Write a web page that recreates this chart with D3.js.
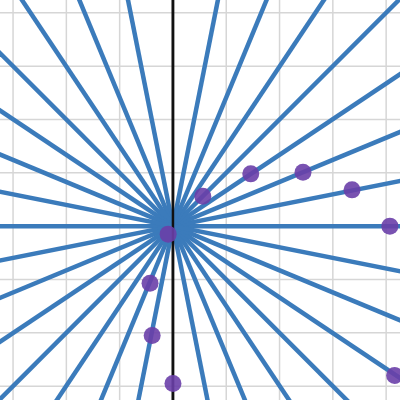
<!DOCTYPE html>
<html>
<head>
<script src="https://cdn.jsdelivr.net/npm/d3@7"></script>
<style>body{margin:0;background:#fff}</style>
</head>
<body>
<div id="chart"></div>
<script>
// line angles in degrees (through origin)
const angles = [0, 11.25, 22.5, 33.75, 45, 56.25, 67.5, 78.75, 90, 101.25, 112.5, 123.75, 135, 146.25, 157.5, 168.75];
const pointsX = [0.56, 1.46, 2.44, 3.36, 4.07, -0.09, -0.43, -0.39, 0, 4.16];
const pointsY = [0.56, 0.98, 1.01, 0.68, 0, -0.15, -1.07, -2.05, -2.95, -2.8];
const gridTicks = [-3, -2, -1, 0, 1, 2, 3, 4];

const width = 400, height = 400;
const x = d3.scaleLinear().domain([-3.245, 4.26]).range([0, width]);
const y = d3.scaleLinear().domain([-3.26, 4.24]).range([height, 0]);

const svg = d3.select("#chart").append("svg")
    .attr("width", width).attr("height", height);

svg.selectAll("line.gx").data(gridTicks).enter().append("line")
    .attr("x1", d => x(d)).attr("x2", d => x(d))
    .attr("y1", 0).attr("y2", height)
    .attr("stroke", "#d6d6d6").attr("stroke-width", 1.5);
svg.selectAll("line.gy").data(gridTicks).enter().append("line")
    .attr("y1", d => y(d)).attr("y2", d => y(d))
    .attr("x1", 0).attr("x2", width)
    .attr("stroke", "#d6d6d6").attr("stroke-width", 1.5);

// y axis under the rays, x axis is covered by the horizontal ray anyway
svg.append("line")
    .attr("x1", x(0)).attr("x2", x(0)).attr("y1", 0).attr("y2", height)
    .attr("stroke", "#111").attr("stroke-width", 2.5);
svg.append("line")
    .attr("y1", y(0)).attr("y2", y(0)).attr("x1", 0).attr("x2", width)
    .attr("stroke", "#111").attr("stroke-width", 2.5);

const R = 20;
svg.selectAll("line.ray").data(angles.filter(a => a !== 90)).enter().append("line")
    .attr("x1", d => x(-R * Math.cos(d * Math.PI / 180)))
    .attr("y1", d => y(-R * Math.sin(d * Math.PI / 180)))
    .attr("x2", d => x(R * Math.cos(d * Math.PI / 180)))
    .attr("y2", d => y(R * Math.sin(d * Math.PI / 180)))
    .attr("stroke", "#3b7bbb").attr("stroke-width", 4.5);

// redraw y axis on top (vertical ray hidden under it)
svg.append("line")
    .attr("x1", x(0)).attr("x2", x(0)).attr("y1", 0).attr("y2", height)
    .attr("stroke", "#111").attr("stroke-width", 2.5);

svg.selectAll("circle").data(pointsX).enter().append("circle")
    .attr("cx", d => x(d))
    .attr("cy", (d, i) => y(pointsY[i]))
    .attr("r", 8.5)
    .attr("fill", "#6a3fa8").attr("fill-opacity", 0.9);
</script>
</body>
</html>
